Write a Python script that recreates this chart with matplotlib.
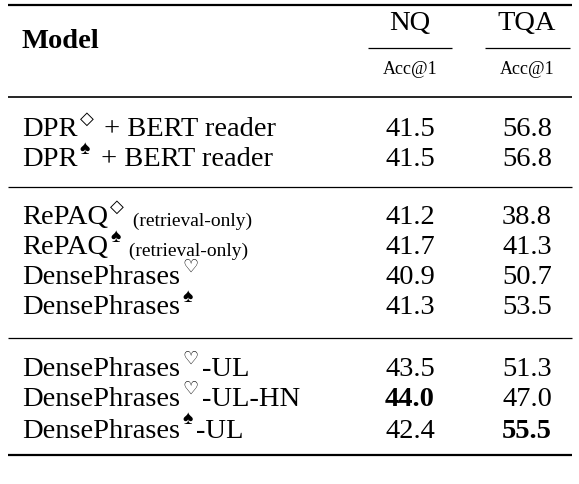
import matplotlib
matplotlib.use("Agg")
import matplotlib.pyplot as plt

models = [
    [("DPR", ""), ("◇", "sup"), (" + BERT reader", "")],
    [("DPR", ""), ("♠", "sup"), (" + BERT reader", "")],
    [("RePAQ", ""), ("◇", "sup"), (" (retrieval-only)", "small")],
    [("RePAQ", ""), ("♠", "sup"), (" (retrieval-only)", "small")],
    [("DensePhrases", ""), ("♡", "sup")],
    [("DensePhrases", ""), ("♠", "sup")],
    [("DensePhrases", ""), ("♡", "sup"), ("-UL", "")],
    [("DensePhrases", ""), ("♡", "sup"), ("-UL-HN", "")],
    [("DensePhrases", ""), ("♠", "sup"), ("-UL", "")],
]
nq = ["41.5", "41.5", "41.2", "41.7", "40.9", "41.3", "43.5", "44.0", "42.4"]
tqa = ["56.8", "56.8", "38.8", "41.3", "50.7", "53.5", "51.3", "47.0", "55.5"]
nq_bold = [False]*7 + [True, False]
tqa_bold = [False]*8 + [True]

W, H = 579, 484
fig = plt.figure(figsize=(W/100, H/100), dpi=100)
ax = fig.add_axes([0, 0, 1, 1])
ax.set_xlim(0, W); ax.set_ylim(H, 0); ax.axis("off")
FAM = ["Liberation Serif", "DejaVu Serif", "DejaVu Sans"]
FS = 20.5

def hline(y, x0, x1, lw):
    ax.plot([x0, x1], [y, y], color="black", lw=lw, solid_capstyle="butt")

hline(5, 8, 572, 1.6)
hline(97, 8, 572, 1.2)
hline(187, 8, 572, 0.9)
hline(338, 8, 572, 0.9)
hline(455, 8, 572, 1.6)
hline(48, 368, 452, 0.9)
hline(48, 485, 570, 0.9)

ax.text(22, 42, "Model", fontsize=FS, fontweight="bold", family=FAM, va="center")
ax.text(410, 24, "NQ", fontsize=FS, family=FAM, ha="center", va="center")
ax.text(527, 24, "TQA", fontsize=FS, family=FAM, ha="center", va="center")
ax.text(410, 70, "Acc@1", fontsize=13, family=FAM, ha="center", va="center")
ax.text(527, 70, "Acc@1", fontsize=13, family=FAM, ha="center", va="center")

rows_y = [130, 160, 218, 248, 278, 308, 370, 400, 431]
fig.canvas.draw()
r = fig.canvas.get_renderer()
inv = ax.transData.inverted()
for y, parts, a, b, ab, bb in zip(rows_y, models, nq, tqa, nq_bold, tqa_bold):
    x = 22
    for s, kind in parts:
        if kind == "sup":
            t = ax.text(x + 2, y - 11, s, fontsize=14 if s == "♠" else 13, family=FAM, va="center")
        elif kind == "small":
            t = ax.text(x, y + 3, s, fontsize=14, family=FAM, va="center")
        else:
            t = ax.text(x, y, s, fontsize=FS, family=FAM, va="center")
        bb_ = t.get_window_extent(r)
        x = inv.transform((bb_.x1, 0))[0] + (4 if kind == "sup" else 0)
    ax.text(410, y, a, fontsize=FS, family=FAM, ha="center", va="center",
            fontweight="bold" if ab else "normal")
    ax.text(527, y, b, fontsize=FS, family=FAM, ha="center", va="center",
            fontweight="bold" if bb else "normal")

fig.savefig("out.png", dpi=100)
